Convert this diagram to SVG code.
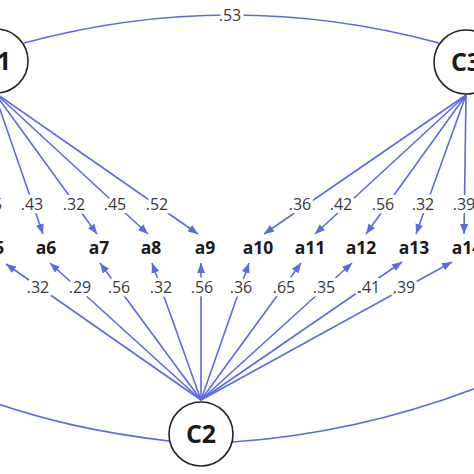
<svg xmlns="http://www.w3.org/2000/svg" width="474" height="474" viewBox="0 0 474 474">
<style>
.ln{fill:none;stroke:#5b6ae0;stroke-width:1.6}
.ar{marker-end:url(#ah)}
.lv{fill:#fff;stroke:#222;stroke-width:1.6}
.lt{font-family:"Open Sans","Noto Sans",sans-serif;font-weight:700;font-size:25px;fill:#1a1a1a;text-anchor:middle}
.ot{font-family:"Open Sans","Noto Sans",sans-serif;font-weight:700;font-size:17.5px;fill:#1a1a1a;text-anchor:middle}
.wt{font-family:"Open Sans","Noto Sans",sans-serif;font-size:16px;fill:#3a3a3a;text-anchor:middle;stroke:#fff;stroke-width:7;stroke-linejoin:round;paint-order:stroke}
</style>
<defs>
<marker id="ah" markerUnits="userSpaceOnUse" markerWidth="11" markerHeight="9" refX="10" refY="4" orient="auto">
<path d="M0,0 L10,4 L0,8 z" fill="#5b6ae0"/>
</marker>
</defs>
<g id="connectors">
<path class="ln" d="M24,43 Q231,-13 439,43"/>
<path class="ln" d="M169,441 C110,434 40,422 -40,390"/>
<path class="ln" d="M232,442 C320,436 420,414 520,370"/>
<line class="ln ar" x1="-6" y1="92" x2="-10" y2="234"/>
<line class="ln ar" x1="-6" y1="92" x2="43" y2="234"/>
<line class="ln ar" x1="-6" y1="92" x2="97" y2="234"/>
<line class="ln ar" x1="-6" y1="92" x2="148" y2="234"/>
<line class="ln ar" x1="-6" y1="92" x2="198" y2="234"/>
<line class="ln ar" x1="466" y1="95" x2="264" y2="234"/>
<line class="ln ar" x1="466" y1="95" x2="315" y2="234"/>
<line class="ln ar" x1="466" y1="95" x2="366" y2="234"/>
<line class="ln ar" x1="466" y1="95" x2="416" y2="234"/>
<line class="ln ar" x1="466" y1="95" x2="464" y2="234"/>
<line class="ln ar" x1="201" y1="400" x2="6" y2="264"/>
<line class="ln ar" x1="201" y1="400" x2="50" y2="263"/>
<line class="ln ar" x1="201" y1="400" x2="100" y2="263"/>
<line class="ln ar" x1="201" y1="400" x2="152" y2="263"/>
<line class="ln ar" x1="201" y1="400" x2="201" y2="263"/>
<line class="ln ar" x1="201" y1="400" x2="249" y2="263"/>
<line class="ln ar" x1="201" y1="400" x2="301" y2="263"/>
<line class="ln ar" x1="201" y1="400" x2="352" y2="263"/>
<line class="ln ar" x1="201" y1="400" x2="402" y2="262"/>
<line class="ln ar" x1="201" y1="400" x2="452" y2="262"/>
<text class="wt" x="230" y="21">.53</text>
<text class="wt" x="-9" y="210">.35</text>
<text class="wt" x="32" y="210">.43</text>
<text class="wt" x="74" y="210">.32</text>
<text class="wt" x="115" y="210">.45</text>
<text class="wt" x="157" y="210">.52</text>
<text class="wt" x="300" y="210">.36</text>
<text class="wt" x="341" y="210">.42</text>
<text class="wt" x="383" y="210">.56</text>
<text class="wt" x="423" y="210">.32</text>
<text class="wt" x="464" y="210">.39</text>
<text class="wt" x="38" y="293">.32</text>
<text class="wt" x="80" y="293">.29</text>
<text class="wt" x="119" y="293">.56</text>
<text class="wt" x="161" y="293">.32</text>
<text class="wt" x="202" y="293">.56</text>
<text class="wt" x="241" y="293">.36</text>
<text class="wt" x="284" y="293">.65</text>
<text class="wt" x="324" y="293">.35</text>
<text class="wt" x="369" y="293">.41</text>
<text class="wt" x="404" y="293">.39</text>
</g>
<g id="C1"><circle class="lv" cx="-4" cy="61" r="32"/><text class="lt" x="-4" y="70">C1</text></g>
<g id="C3"><circle class="lv" cx="466" cy="62" r="32"/><text class="lt" x="466" y="71">C3</text></g>
<g id="C2"><circle class="lv" cx="201" cy="434" r="32"/><text class="lt" x="201" y="443">C2</text></g>
<g id="a5"><text class="ot" x="-6" y="254">a5</text></g>
<g id="a6"><text class="ot" x="46" y="254">a6</text></g>
<g id="a7"><text class="ot" x="99" y="254">a7</text></g>
<g id="a8"><text class="ot" x="151" y="254">a8</text></g>
<g id="a9"><text class="ot" x="205" y="254">a9</text></g>
<g id="a10"><text class="ot" x="258" y="254">a10</text></g>
<g id="a11"><text class="ot" x="310" y="254">a11</text></g>
<g id="a12"><text class="ot" x="361" y="254">a12</text></g>
<g id="a13"><text class="ot" x="414" y="254">a13</text></g>
<g id="a14"><text class="ot" x="467" y="254">a14</text></g>
</svg>
